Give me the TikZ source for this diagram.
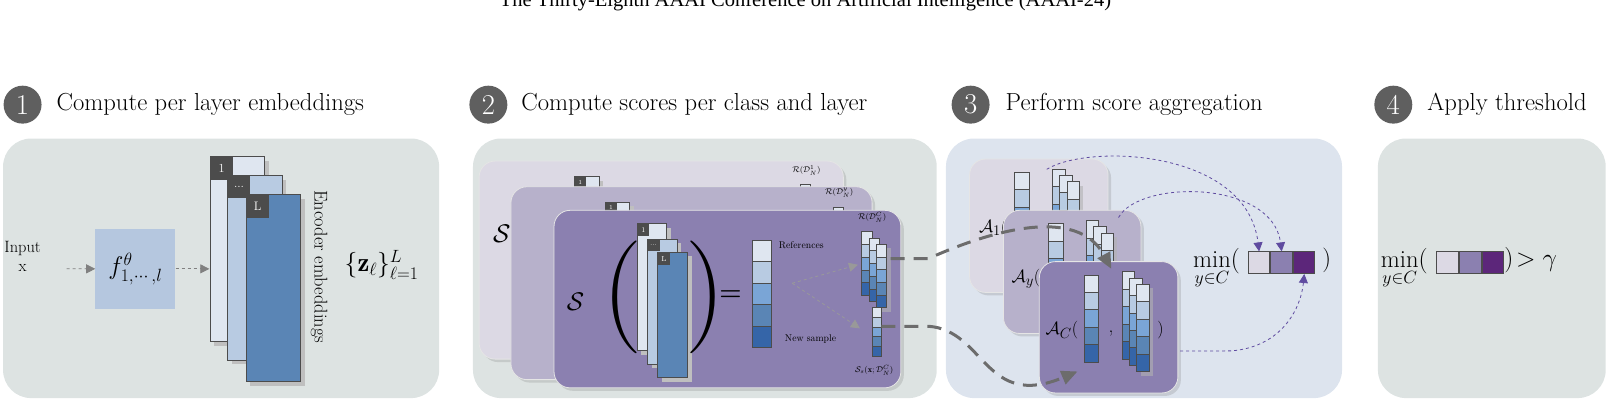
\documentclass[tikz,border=0pt]{standalone}
\usepackage{fontspec}
\usepackage{amsmath,amssymb}
\usetikzlibrary{arrows.meta,shadows}
\newfontfamily\tnr{Liberation Serif}
\newcommand\fsz[1]{\fontsize{#1}{#1}\selectfont}
\definecolor{pgrey}{RGB}{221,227,226}
\definecolor{pblue}{RGB}{221,228,238}
\definecolor{Lone}{RGB}{220,217,228}
\definecolor{Ltwo}{RGB}{183,177,203}
\definecolor{Lthree}{RGB}{139,128,176}
\definecolor{dpurp}{RGB}{92,38,122}
\definecolor{arrp}{RGB}{95,75,160}
\definecolor{fbox}{RGB}{181,199,223}
\definecolor{ca}{RGB}{223,230,240}
\definecolor{cb}{RGB}{184,203,226}
\definecolor{cc}{RGB}{122,165,214}
\definecolor{cd}{RGB}{90,133,181}
\definecolor{ce}{RGB}{53,101,168}
\definecolor{num}{RGB}{95,95,95}
\newcommand\sheet[8]{%
 \fill[black!25] ({#1+4},{#2+4}) rectangle ++(#3,#4);
 \draw[black!70,fill=#5,line width=1pt] (#1,#2) rectangle ++(#3,#4);
 \fill[black!70] (#1,#2) rectangle ++(#7,#7);
 \node[text=white,font=\fsz{#8},inner sep=0pt] at ({#1+#7/2},{#2+#7/2}) {#6};}
\newcommand\sbar[4]{%
 \foreach \i/\c in {0/ca,1/cb,2/cc,3/cd,4/ce}{\draw[draw=black!70,fill=\c,line width=.8pt] (#1,{#2+\i*#4}) rectangle ++(#3,#4);}}
\newcommand\rstack[4]{%
 \fill[black!30,opacity=.6] ({#1+14+4},{#2+12+4}) rectangle ++(#3,{5*#4});
 \sbar{#1}{#2}{#3}{#4}\sbar{#1+7}{#2+6}{#3}{#4}\sbar{#1+14}{#2+12}{#3}{#4}}
\newcommand\scores[2]{%
 \sbar{#1+44}{#2+13}{14}{17}
 \node[font=\fsz{19}] at ({#1+70},{#2+70}) {,};
 \rstack{#1+81}{#2+10}{12}{17}}
\begin{document}
\begin{tikzpicture}[x=1pt,y=-1pt,scale=1.026,every node/.append style={transform shape},
  panel/.style={rounded corners=28pt},
  layer/.style={rounded corners=16pt,draw=white!80!gray,line width=.8pt,drop shadow={opacity=.25,shadow xshift=3pt,shadow yshift=-3pt}},
  numc/.style={circle,fill=num,text=white,minimum size=37pt,inner sep=0pt,font=\fsz{28}},
  head/.style={anchor=west,font=\fsz{24},inner sep=0pt},
  thin/.style={dashed,gray,line width=.8pt,-{Triangle[length=9pt,width=9pt]}},
  thick/.style={gray!85!black,line width=3pt,dash pattern=on 14pt off 9pt,-{Triangle[length=16pt,width=14pt]}},
  parr/.style={arrp,dashed,line width=.8pt,-{Triangle[length=9pt,width=9pt]}}]
\path (0,0) rectangle (1569.2,390.8);
\pgfinterruptboundingbox
\begin{scope}
\clip (0,0) rectangle (1569.2,390.8);
\node[font=\tnr\fsz{20},anchor=base] (title) at (785,6) {The Thirty-Eighth AAAI Conference on Artificial Intelligence (AAAI-24)};
\end{scope}
% headings
\node[numc] (n1) at (22,102) {1};
\node[head] (h1) at (55,102) {Compute per layer embeddings};
\node[numc] (n2) at (476,102) {2};
\node[head] (h2) at (508,102) {Compute scores per class and layer};
\node[numc] (n3) at (946,102) {3};
\node[head] (h3) at (980,102) {Perform score aggregation};
\node[numc] (n4) at (1358,102) {4};
\node[head] (h4) at (1391,102) {Apply threshold};
% panels
\fill[pgrey,panel] (3,135) rectangle (428,388);
\fill[pgrey,panel] (461,135) rectangle (913,388);
\fill[pblue,panel] (922,135) rectangle (1308,388);
\fill[pgrey,panel] (1343,135) rectangle (1565,388);
% ---- panel 1
\node[align=center,font=\fsz{16},inner sep=0pt] (in) at (22,250) {Input\\[2pt]x};
\node[fill=fbox,minimum width=78pt,minimum height=78pt,font=\fsz{23}] (f) at (132,262) {$f^{\theta}_{1,\cdots,l}$};
\coordinate (e1) at (204,262);
\draw[thin] (65,262) -- (f.west);
\draw[thin] (f.east) -- (e1);
\sheet{205}{153}{53}{180}{ca}{1}{22}{12}
\sheet{222}{171}{53}{180}{cb}{...}{22}{12}
\sheet{240}{190}{53}{182}{cd}{L}{22}{12}
\node[rotate=-90,font=\fsz{18}] (enc) at (311,260) {Encoder embeddings};
\node[font=\fsz{26}] (z) at (372,258) {$\{\mathbf{z}_\ell\}_{\ell=1}^{L}$};
% ---- panel 2
\fill[Lone,layer] (467,157) rectangle (822,350);
\sheet{560}{172}{24}{60}{ca}{1}{11}{6}
\node[font=\fsz{8}] (r1) at (786,166) {$\mathcal{R}(\mathcal{D}^{1}_{N})$};
\draw[black!70,fill=ca] (780,180) rectangle ++(10,8);
\fill[Ltwo,layer] (498,182) rectangle (850,370);
\sheet{590}{197}{24}{60}{ca}{1}{11}{6}
\node[font=\fsz{30}] (S2) at (489,228) {$\mathcal{S}$};
\node[font=\fsz{8}] (ry) at (818,188) {$\mathcal{R}(\mathcal{D}^{y}_{N})$};
\draw[black!70,fill=ca] (812,202) rectangle ++(10,8);
\fill[Lthree,layer] (540,205) rectangle (878,378);
\node[font=\fsz{34}] (S) at (561,294) {$\mathcal{S}$};
\node[font=\fsz{110},inner sep=0pt] (lp) at (607,290) {(};
\sheet{621}{218}{29}{124}{ca}{1}{12}{7}
\sheet{631}{233}{29}{122}{cb}{...}{12}{7}
\sheet{641}{246}{29}{122}{cd}{L}{12}{7}
\node[font=\fsz{110},inner sep=0pt] (rp) at (688,290) {)};
\node[font=\fsz{26}] (eq) at (712,288) {$\boldsymbol{=}$};
\sbar{733}{234}{19}{21}
\node[font=\fsz{9.5}] (refs) at (781,239) {References};
\node[font=\fsz{9.5}] (news) at (790,330) {New sample};
\coordinate (split) at (772,276);
\coordinate (rin) at (836,258);
\coordinate (nin) at (838,320);
\draw[thin,gray!80] (split) -- (rin);
\draw[thin,gray!80] (split) -- (nin);
\node[font=\fsz{8}] (rc) at (850,212) {$\mathcal{R}(\mathcal{D}^{C}_{N})$};
\rstack{840}{226}{10}{12.4}
\coordinate (rout) at (868,252);
\sbar{850}{300}{9}{9.4}
\coordinate (nout) at (859,318);
\node[font=\fsz{8}] (ss) at (852,361) {$\mathcal{S}_s(\mathbf{x};\mathcal{D}^{C}_{N})$};
% ---- panel 3
\fill[Lone,layer] (945,155) rectangle (1080,285);
\begin{scope}[shift={(945,155)}]\scores{0}{0}\end{scope}
\node[font=\fsz{19}] (A1) at (968,222) {$\mathcal{A}_1($};
\fill[Ltwo,layer] (978,205) rectangle (1112,325);
\begin{scope}[shift={(978,205)}]\scores{0}{0}\end{scope}
\node[font=\fsz{19}] (Ay) at (1000,272) {$\mathcal{A}_y($};
\fill[Lthree,layer] (1013,255) rectangle (1148,383);
\begin{scope}[shift={(1013,255)}]\scores{0}{0}\end{scope}
\node[font=\fsz{19}] (AC) at (1035,322) {$\mathcal{A}_C($};
\node[font=\fsz{19}] (ACr) at (1131,322) {$)$};
\coordinate (acin) at (1083,262);
\coordinate (acin2) at (1050,362);
\draw[thick] (rout) -- (905,252) .. controls (965,225) and (1050,200) .. (acin);
\draw[thick] (nout) -- (905,318) .. controls (960,322) and (960,400) .. (acin2);
\node[font=\fsz{24},anchor=east] (min3) at (1212,262) {$\min\limits_{y\in C}($};
\node[draw=black!70,fill=Lone,minimum size=21pt,line width=1pt,inner sep=0pt] (b1) at (1227,256) {};
\node[draw=black!70,fill=Lthree,minimum size=21pt,line width=1pt,inner sep=0pt] (b2) at (1249,256) {};
\node[draw=black!70,fill=dpurp,minimum size=21pt,line width=1pt,inner sep=0pt] (b3) at (1271,256) {};
\node[font=\fsz{24}] (close3) at (1293,254) {)};
\coordinate (a1out) at (1020,165);
\coordinate (ayout) at (1090,212);
\coordinate (acout) at (1150,342);
\draw[parr] (a1out) .. controls (1060,140) and (1215,145) .. (b1.north);
\draw[parr] (ayout) .. controls (1110,175) and (1240,175) .. (b2.north);
\draw[parr] (acout) -- (1200,342) .. controls (1250,338) and (1268,300) .. (b3.south);
% ---- panel 4
\node[font=\fsz{24},anchor=east] (min4) at (1395,262) {$\min\limits_{y\in C}($};
\node[draw=black!70,fill=Lone,minimum size=21pt,line width=1pt,inner sep=0pt] (t1) at (1411,256) {};
\node[draw=black!70,fill=Lthree,minimum size=21pt,line width=1pt,inner sep=0pt] (t2) at (1433,256) {};
\node[draw=black!70,fill=dpurp,minimum size=21pt,line width=1pt,inner sep=0pt] (t3) at (1455,256) {};
\node[font=\fsz{24},anchor=west,inner sep=1pt] (gt) at (1465,254) {$)\!>\gamma$};
\endpgfinterruptboundingbox
\end{tikzpicture}
\end{document}
